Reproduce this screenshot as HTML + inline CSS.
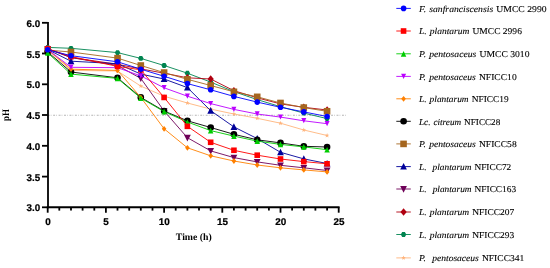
<!DOCTYPE html><html><head><meta charset="utf-8"><title>pH chart</title><style>html,body{margin:0;padding:0;background:#fff}body{width:550px;height:268px;overflow:hidden}svg{display:block}text{text-rendering:geometricPrecision}.tk{font-family:"Liberation Sans",Arial,sans-serif;font-weight:bold;font-size:9.8px;fill:#000;stroke:#000;stroke-width:0.22px}.ax{font-family:"Liberation Serif","Times New Roman",serif;font-weight:bold;font-size:9.8px;fill:#000}.lg{font-family:"Liberation Serif","Times New Roman",serif;font-size:9px;fill:#000;stroke:#000;stroke-width:0.1px;white-space:pre}.lg tspan.i{font-style:italic;word-spacing:0.7px}.lg tspan.r{word-spacing:0px}</style></head><body>
<svg width="550" height="268" viewBox="0 0 550 268">
<rect width="550" height="268" fill="#fff"/>
<line x1="47.7" y1="115.25" x2="346" y2="115.25" stroke="#808080" stroke-width="0.6" stroke-dasharray="1.9 1.15 0.7 1.7"/>
<line x1="48.0" y1="21.9" x2="48.0" y2="208.15" stroke="#000" stroke-width="1.8"/>
<line x1="46.800000000000004" y1="207.25" x2="339.59999999999997" y2="207.25" stroke="#000" stroke-width="1.8"/>
<line x1="42.0" y1="207.3" x2="47.7" y2="207.3" stroke="#000" stroke-width="1.8"/>
<text class="tk" transform="translate(40.2,211.2) scale(1.0,1)" text-anchor="end">3.0</text>
<line x1="42.0" y1="176.6" x2="47.7" y2="176.6" stroke="#000" stroke-width="1.8"/>
<text class="tk" transform="translate(40.2,180.5) scale(1.0,1)" text-anchor="end">3.5</text>
<line x1="42.0" y1="145.8" x2="47.7" y2="145.8" stroke="#000" stroke-width="1.8"/>
<text class="tk" transform="translate(40.2,149.8) scale(1.0,1)" text-anchor="end">4.0</text>
<line x1="42.0" y1="115.0" x2="47.7" y2="115.0" stroke="#000" stroke-width="1.8"/>
<text class="tk" transform="translate(40.2,119.0) scale(1.0,1)" text-anchor="end">4.5</text>
<line x1="42.0" y1="84.3" x2="47.7" y2="84.3" stroke="#000" stroke-width="1.8"/>
<text class="tk" transform="translate(40.2,88.2) scale(1.0,1)" text-anchor="end">5.0</text>
<line x1="42.0" y1="53.5" x2="47.7" y2="53.5" stroke="#000" stroke-width="1.8"/>
<text class="tk" transform="translate(40.2,57.5) scale(1.0,1)" text-anchor="end">5.5</text>
<line x1="42.0" y1="22.8" x2="47.7" y2="22.8" stroke="#000" stroke-width="1.8"/>
<text class="tk" transform="translate(40.2,26.8) scale(1.0,1)" text-anchor="end">6.0</text>
<line x1="47.7" y1="207.25" x2="47.7" y2="212.7" stroke="#000" stroke-width="1.8"/>
<text class="tk" transform="translate(47.9,224.5) scale(1.01,1)" text-anchor="middle">0</text>
<line x1="59.3" y1="207.25" x2="59.3" y2="210.6" stroke="#000" stroke-width="1.8"/>
<line x1="71.0" y1="207.25" x2="71.0" y2="210.6" stroke="#000" stroke-width="1.8"/>
<line x1="82.6" y1="207.25" x2="82.6" y2="210.6" stroke="#000" stroke-width="1.8"/>
<line x1="94.3" y1="207.25" x2="94.3" y2="210.6" stroke="#000" stroke-width="1.8"/>
<line x1="105.9" y1="207.25" x2="105.9" y2="212.7" stroke="#000" stroke-width="1.8"/>
<text class="tk" transform="translate(106.1,224.5) scale(1.01,1)" text-anchor="middle">5</text>
<line x1="117.5" y1="207.25" x2="117.5" y2="210.6" stroke="#000" stroke-width="1.8"/>
<line x1="129.2" y1="207.25" x2="129.2" y2="210.6" stroke="#000" stroke-width="1.8"/>
<line x1="140.8" y1="207.25" x2="140.8" y2="210.6" stroke="#000" stroke-width="1.8"/>
<line x1="152.5" y1="207.25" x2="152.5" y2="210.6" stroke="#000" stroke-width="1.8"/>
<line x1="164.1" y1="207.25" x2="164.1" y2="212.7" stroke="#000" stroke-width="1.8"/>
<text class="tk" transform="translate(164.3,224.5) scale(1.01,1)" text-anchor="middle">10</text>
<line x1="175.7" y1="207.25" x2="175.7" y2="210.6" stroke="#000" stroke-width="1.8"/>
<line x1="187.4" y1="207.25" x2="187.4" y2="210.6" stroke="#000" stroke-width="1.8"/>
<line x1="199.0" y1="207.25" x2="199.0" y2="210.6" stroke="#000" stroke-width="1.8"/>
<line x1="210.7" y1="207.25" x2="210.7" y2="210.6" stroke="#000" stroke-width="1.8"/>
<line x1="222.3" y1="207.25" x2="222.3" y2="212.7" stroke="#000" stroke-width="1.8"/>
<text class="tk" transform="translate(222.5,224.5) scale(1.01,1)" text-anchor="middle">15</text>
<line x1="233.9" y1="207.25" x2="233.9" y2="210.6" stroke="#000" stroke-width="1.8"/>
<line x1="245.6" y1="207.25" x2="245.6" y2="210.6" stroke="#000" stroke-width="1.8"/>
<line x1="257.2" y1="207.25" x2="257.2" y2="210.6" stroke="#000" stroke-width="1.8"/>
<line x1="268.9" y1="207.25" x2="268.9" y2="210.6" stroke="#000" stroke-width="1.8"/>
<line x1="280.5" y1="207.25" x2="280.5" y2="212.7" stroke="#000" stroke-width="1.8"/>
<text class="tk" transform="translate(280.7,224.5) scale(1.01,1)" text-anchor="middle">20</text>
<line x1="292.1" y1="207.25" x2="292.1" y2="210.6" stroke="#000" stroke-width="1.8"/>
<line x1="303.8" y1="207.25" x2="303.8" y2="210.6" stroke="#000" stroke-width="1.8"/>
<line x1="315.4" y1="207.25" x2="315.4" y2="210.6" stroke="#000" stroke-width="1.8"/>
<line x1="327.1" y1="207.25" x2="327.1" y2="210.6" stroke="#000" stroke-width="1.8"/>
<line x1="338.7" y1="207.25" x2="338.7" y2="212.7" stroke="#000" stroke-width="1.8"/>
<text class="tk" transform="translate(338.9,224.5) scale(1.01,1)" text-anchor="middle">25</text>
<polyline points="47.7,50.1 71.0,70.4 117.5,71.0 140.8,86.1 164.1,96.2 187.4,103.0 210.7,109.1 233.9,114.0 257.2,118.3 280.5,123.2 303.8,130.0 327.1,135.5" fill="none" stroke="#ffb47c" stroke-width="0.9" stroke-linejoin="round"/>
<polygon points="47.7,47.7 48.3,49.3 50.0,49.4 48.7,50.5 49.1,52.1 47.7,51.2 46.3,52.1 46.7,50.5 45.4,49.4 47.1,49.3" fill="#ffb47c"/>
<polygon points="71.0,68.0 71.6,69.6 73.3,69.7 71.9,70.7 72.4,72.4 71.0,71.4 69.6,72.4 70.0,70.7 68.7,69.7 70.4,69.6" fill="#ffb47c"/>
<polygon points="117.5,68.6 118.1,70.2 119.8,70.3 118.5,71.3 119.0,73.0 117.5,72.0 116.1,73.0 116.6,71.3 115.3,70.3 116.9,70.2" fill="#ffb47c"/>
<polygon points="140.8,83.7 141.4,85.3 143.1,85.3 141.8,86.4 142.2,88.0 140.8,87.1 139.4,88.0 139.9,86.4 138.5,85.3 140.2,85.3" fill="#ffb47c"/>
<polygon points="164.1,93.8 164.7,95.4 166.4,95.5 165.1,96.5 165.5,98.2 164.1,97.2 162.7,98.2 163.1,96.5 161.8,95.5 163.5,95.4" fill="#ffb47c"/>
<polygon points="187.4,100.6 188.0,102.2 189.7,102.2 188.3,103.3 188.8,104.9 187.4,104.0 186.0,104.9 186.4,103.3 185.1,102.2 186.8,102.2" fill="#ffb47c"/>
<polygon points="210.7,106.7 211.3,108.3 212.9,108.4 211.6,109.4 212.1,111.1 210.7,110.1 209.2,111.1 209.7,109.4 208.4,108.4 210.1,108.3" fill="#ffb47c"/>
<polygon points="233.9,111.6 234.5,113.2 236.2,113.3 234.9,114.3 235.4,116.0 233.9,115.0 232.5,116.0 233.0,114.3 231.7,113.3 233.3,113.2" fill="#ffb47c"/>
<polygon points="257.2,115.9 257.8,117.5 259.5,117.6 258.2,118.6 258.6,120.3 257.2,119.3 255.8,120.3 256.3,118.6 254.9,117.6 256.6,117.5" fill="#ffb47c"/>
<polygon points="280.5,120.8 281.1,122.4 282.8,122.5 281.5,123.6 281.9,125.2 280.5,124.3 279.1,125.2 279.5,123.6 278.2,122.5 279.9,122.4" fill="#ffb47c"/>
<polygon points="303.8,127.6 304.4,129.2 306.1,129.3 304.7,130.3 305.2,131.9 303.8,131.0 302.4,131.9 302.8,130.3 301.5,129.3 303.2,129.2" fill="#ffb47c"/>
<polygon points="327.1,133.1 327.7,134.7 329.3,134.8 328.0,135.8 328.5,137.5 327.1,136.5 325.6,137.5 326.1,135.8 324.8,134.8 326.5,134.7" fill="#ffb47c"/>
<polyline points="47.7,47.4 71.0,48.3 117.5,52.6 140.8,58.4 164.1,65.5 187.4,73.2 210.7,82.1 233.9,91.6 257.2,99.6 280.5,106.7 303.8,113.1 327.1,118.6" fill="none" stroke="#008450" stroke-width="0.9" stroke-linejoin="round"/>
<polygon points="50.5,47.4 49.1,49.8 46.3,49.8 45.0,47.4 46.3,45.0 49.1,45.0" fill="#008450"/>
<polygon points="73.7,48.3 72.4,50.7 69.6,50.7 68.2,48.3 69.6,45.9 72.4,45.9" fill="#008450"/>
<polygon points="120.3,52.6 118.9,55.0 116.2,55.0 114.8,52.6 116.2,50.2 118.9,50.2" fill="#008450"/>
<polygon points="143.6,58.4 142.2,60.8 139.4,60.8 138.1,58.4 139.4,56.1 142.2,56.1" fill="#008450"/>
<polygon points="166.9,65.5 165.5,67.9 162.7,67.9 161.4,65.5 162.7,63.1 165.5,63.1" fill="#008450"/>
<polygon points="190.1,73.2 188.8,75.6 186.0,75.6 184.6,73.2 186.0,70.8 188.8,70.8" fill="#008450"/>
<polygon points="213.4,82.1 212.0,84.5 209.3,84.5 207.9,82.1 209.3,79.7 212.0,79.7" fill="#008450"/>
<polygon points="236.7,91.6 235.3,94.0 232.6,94.0 231.2,91.6 232.6,89.2 235.3,89.2" fill="#008450"/>
<polygon points="260.0,99.6 258.6,102.0 255.8,102.0 254.5,99.6 255.8,97.2 258.6,97.2" fill="#008450"/>
<polygon points="283.2,106.7 281.9,109.0 279.1,109.0 277.8,106.7 279.1,104.3 281.9,104.3" fill="#008450"/>
<polygon points="306.5,113.1 305.2,115.5 302.4,115.5 301.0,113.1 302.4,110.7 305.2,110.7" fill="#008450"/>
<polygon points="329.8,118.6 328.4,121.0 325.7,121.0 324.3,118.6 325.7,116.3 328.4,116.3" fill="#008450"/>
<polyline points="47.7,48.6 71.0,57.5 117.5,64.3 140.8,68.9 164.1,73.2 187.4,77.8 210.7,79.0 233.9,90.7 257.2,97.8 280.5,103.9 303.8,107.3 327.1,110.0" fill="none" stroke="#b00010" stroke-width="0.9" stroke-linejoin="round"/>
<polygon points="47.7,44.9 50.8,48.6 47.7,52.3 44.6,48.6" fill="#b00010"/>
<polygon points="71.0,53.8 74.1,57.5 71.0,61.2 67.9,57.5" fill="#b00010"/>
<polygon points="117.5,60.6 120.6,64.3 117.5,68.0 114.4,64.3" fill="#b00010"/>
<polygon points="140.8,65.2 143.9,68.9 140.8,72.6 137.7,68.9" fill="#b00010"/>
<polygon points="164.1,69.5 167.2,73.2 164.1,76.9 161.0,73.2" fill="#b00010"/>
<polygon points="187.4,74.1 190.5,77.8 187.4,81.5 184.3,77.8" fill="#b00010"/>
<polygon points="210.7,75.3 213.8,79.0 210.7,82.7 207.6,79.0" fill="#b00010"/>
<polygon points="233.9,87.0 237.0,90.7 233.9,94.4 230.8,90.7" fill="#b00010"/>
<polygon points="257.2,94.1 260.3,97.8 257.2,101.5 254.1,97.8" fill="#b00010"/>
<polygon points="280.5,100.2 283.6,103.9 280.5,107.6 277.4,103.9" fill="#b00010"/>
<polygon points="303.8,103.6 306.9,107.3 303.8,111.0 300.7,107.3" fill="#b00010"/>
<polygon points="327.1,106.3 330.2,110.0 327.1,113.7 324.0,110.0" fill="#b00010"/>
<polyline points="47.7,48.9 71.0,57.5 117.5,65.5 140.8,78.4 164.1,111.0 187.4,137.7 210.7,150.9 233.9,157.6 257.2,161.9 280.5,165.3 303.8,167.8 327.1,170.5" fill="none" stroke="#6e0058" stroke-width="0.9" stroke-linejoin="round"/>
<polygon points="47.7,52.6 51.1,46.0 44.3,46.0" fill="#6e0058"/>
<polygon points="71.0,61.2 74.4,54.6 67.6,54.6" fill="#6e0058"/>
<polygon points="117.5,69.2 120.9,62.6 114.1,62.6" fill="#6e0058"/>
<polygon points="140.8,82.1 144.2,75.5 137.4,75.5" fill="#6e0058"/>
<polygon points="164.1,114.7 167.5,108.1 160.7,108.1" fill="#6e0058"/>
<polygon points="187.4,141.4 190.8,134.8 184.0,134.8" fill="#6e0058"/>
<polygon points="210.7,154.6 214.1,148.0 207.3,148.0" fill="#6e0058"/>
<polygon points="233.9,161.3 237.3,154.7 230.5,154.7" fill="#6e0058"/>
<polygon points="257.2,165.6 260.6,159.0 253.8,159.0" fill="#6e0058"/>
<polygon points="280.5,169.0 283.9,162.4 277.1,162.4" fill="#6e0058"/>
<polygon points="303.8,171.5 307.2,164.9 300.4,164.9" fill="#6e0058"/>
<polygon points="327.1,174.2 330.5,167.6 323.7,167.6" fill="#6e0058"/>
<polyline points="47.7,49.5 71.0,61.2 117.5,63.7 140.8,74.1 164.1,79.0 187.4,87.6 210.7,110.7 233.9,126.9 257.2,138.6 280.5,152.3 303.8,158.9 327.1,163.5" fill="none" stroke="#000099" stroke-width="0.9" stroke-linejoin="round"/>
<polygon points="47.7,45.9 51.1,52.5 44.3,52.5" fill="#000099"/>
<polygon points="71.0,57.6 74.4,64.2 67.6,64.2" fill="#000099"/>
<polygon points="117.5,60.1 120.9,66.7 114.1,66.7" fill="#000099"/>
<polygon points="140.8,70.5 144.2,77.1 137.4,77.1" fill="#000099"/>
<polygon points="164.1,75.4 167.5,82.0 160.7,82.0" fill="#000099"/>
<polygon points="187.4,84.0 190.8,90.6 184.0,90.6" fill="#000099"/>
<polygon points="210.7,107.1 214.1,113.7 207.3,113.7" fill="#000099"/>
<polygon points="233.9,123.3 237.3,129.9 230.5,129.9" fill="#000099"/>
<polygon points="257.2,135.0 260.6,141.6 253.8,141.6" fill="#000099"/>
<polygon points="280.5,148.7 283.9,155.3 277.1,155.3" fill="#000099"/>
<polygon points="303.8,155.3 307.2,161.9 300.4,161.9" fill="#000099"/>
<polygon points="327.1,159.9 330.5,166.5 323.7,166.5" fill="#000099"/>
<polyline points="47.7,50.1 71.0,52.0 117.5,58.1 140.8,65.5 164.1,72.6 187.4,79.3 210.7,85.5 233.9,91.8 257.2,96.8 280.5,103.0 303.8,107.6 327.1,111.3" fill="none" stroke="#a5661f" stroke-width="0.9" stroke-linejoin="round"/>
<rect x="44.40" y="46.84" width="6.60" height="6.60" fill="#a5661f"/>
<rect x="67.68" y="48.69" width="6.60" height="6.60" fill="#a5661f"/>
<rect x="114.24" y="54.83" width="6.60" height="6.60" fill="#a5661f"/>
<rect x="137.52" y="62.20" width="6.60" height="6.60" fill="#a5661f"/>
<rect x="160.80" y="69.27" width="6.60" height="6.60" fill="#a5661f"/>
<rect x="184.08" y="76.02" width="6.60" height="6.60" fill="#a5661f"/>
<rect x="207.36" y="82.17" width="6.60" height="6.60" fill="#a5661f"/>
<rect x="230.64" y="88.49" width="6.60" height="6.60" fill="#a5661f"/>
<rect x="253.92" y="93.53" width="6.60" height="6.60" fill="#a5661f"/>
<rect x="277.20" y="99.67" width="6.60" height="6.60" fill="#a5661f"/>
<rect x="300.48" y="104.28" width="6.60" height="6.60" fill="#a5661f"/>
<rect x="323.76" y="107.97" width="6.60" height="6.60" fill="#a5661f"/>
<polyline points="47.7,52.0 71.0,72.0 117.5,77.8 140.8,97.4 164.1,111.0 187.4,120.8 210.7,127.5 233.9,134.3 257.2,139.8 280.5,142.9 303.8,146.3 327.1,147.0" fill="none" stroke="#000000" stroke-width="0.9" stroke-linejoin="round"/>
<circle cx="47.7" cy="52.0" r="3.30" fill="#000000"/>
<circle cx="71.0" cy="72.0" r="3.30" fill="#000000"/>
<circle cx="117.5" cy="77.8" r="3.30" fill="#000000"/>
<circle cx="140.8" cy="97.4" r="3.30" fill="#000000"/>
<circle cx="164.1" cy="111.0" r="3.30" fill="#000000"/>
<circle cx="187.4" cy="120.8" r="3.30" fill="#000000"/>
<circle cx="210.7" cy="127.5" r="3.30" fill="#000000"/>
<circle cx="233.9" cy="134.3" r="3.30" fill="#000000"/>
<circle cx="257.2" cy="139.8" r="3.30" fill="#000000"/>
<circle cx="280.5" cy="142.9" r="3.30" fill="#000000"/>
<circle cx="303.8" cy="146.3" r="3.30" fill="#000000"/>
<circle cx="327.1" cy="147.0" r="3.30" fill="#000000"/>
<polyline points="47.7,49.5 71.0,69.2 117.5,70.4 140.8,97.4 164.1,128.8 187.4,147.8 210.7,155.8 233.9,161.0 257.2,165.0 280.5,167.8 303.8,169.9 327.1,171.9" fill="none" stroke="#ff8000" stroke-width="0.9" stroke-linejoin="round"/>
<polygon points="47.7,46.6 50.0,49.5 47.7,52.4 45.4,49.5" fill="#ff8000"/>
<polygon points="71.0,66.3 73.3,69.2 71.0,72.1 68.7,69.2" fill="#ff8000"/>
<polygon points="117.5,67.5 119.8,70.4 117.5,73.3 115.2,70.4" fill="#ff8000"/>
<polygon points="140.8,94.5 143.1,97.4 140.8,100.3 138.5,97.4" fill="#ff8000"/>
<polygon points="164.1,125.9 166.4,128.8 164.1,131.7 161.8,128.8" fill="#ff8000"/>
<polygon points="187.4,144.9 189.7,147.8 187.4,150.7 185.1,147.8" fill="#ff8000"/>
<polygon points="210.7,152.9 213.0,155.8 210.7,158.7 208.4,155.8" fill="#ff8000"/>
<polygon points="233.9,158.1 236.2,161.0 233.9,163.9 231.6,161.0" fill="#ff8000"/>
<polygon points="257.2,162.1 259.5,165.0 257.2,167.9 254.9,165.0" fill="#ff8000"/>
<polygon points="280.5,164.9 282.8,167.8 280.5,170.7 278.2,167.8" fill="#ff8000"/>
<polygon points="303.8,167.0 306.1,169.9 303.8,172.8 301.5,169.9" fill="#ff8000"/>
<polygon points="327.1,169.0 329.4,171.9 327.1,174.8 324.8,171.9" fill="#ff8000"/>
<polyline points="47.7,49.5 71.0,67.3 117.5,67.7 140.8,75.9 164.1,87.8 187.4,96.2 210.7,103.6 233.9,109.4 257.2,114.0 280.5,117.1 303.8,120.8 327.1,123.7" fill="none" stroke="#bb00ff" stroke-width="0.9" stroke-linejoin="round"/>
<polygon points="47.7,52.0 50.2,46.8 45.2,46.8" fill="#bb00ff"/>
<polygon points="71.0,69.8 73.5,64.6 68.5,64.6" fill="#bb00ff"/>
<polygon points="117.5,70.1 120.0,65.0 115.0,65.0" fill="#bb00ff"/>
<polygon points="140.8,78.4 143.3,73.2 138.3,73.2" fill="#bb00ff"/>
<polygon points="164.1,90.3 166.6,85.1 161.6,85.1" fill="#bb00ff"/>
<polygon points="187.4,98.7 189.9,93.5 184.9,93.5" fill="#bb00ff"/>
<polygon points="210.7,106.0 213.2,100.9 208.2,100.9" fill="#bb00ff"/>
<polygon points="233.9,111.9 236.4,106.7 231.4,106.7" fill="#bb00ff"/>
<polygon points="257.2,116.5 259.7,111.3 254.7,111.3" fill="#bb00ff"/>
<polygon points="280.5,119.6 283.0,114.4 278.0,114.4" fill="#bb00ff"/>
<polygon points="303.8,123.2 306.3,118.1 301.3,118.1" fill="#bb00ff"/>
<polygon points="327.1,126.2 329.6,121.0 324.6,121.0" fill="#bb00ff"/>
<polyline points="47.7,52.9 71.0,74.1 117.5,78.4 140.8,98.1 164.1,111.6 187.4,122.0 210.7,130.6 233.9,136.1 257.2,141.1 280.5,144.4 303.8,146.9 327.1,149.7" fill="none" stroke="#00cc00" stroke-width="0.9" stroke-linejoin="round"/>
<polygon points="47.7,50.1 50.5,55.8 45.0,55.8" fill="#00cc00"/>
<polygon points="71.0,71.3 73.7,77.0 68.2,77.0" fill="#00cc00"/>
<polygon points="117.5,75.6 120.3,81.3 114.8,81.3" fill="#00cc00"/>
<polygon points="140.8,95.3 143.6,101.0 138.1,101.0" fill="#00cc00"/>
<polygon points="164.1,108.8 166.9,114.5 161.4,114.5" fill="#00cc00"/>
<polygon points="187.4,119.2 190.1,124.9 184.6,124.9" fill="#00cc00"/>
<polygon points="210.7,127.8 213.4,133.5 207.9,133.5" fill="#00cc00"/>
<polygon points="233.9,133.3 236.7,139.0 231.2,139.0" fill="#00cc00"/>
<polygon points="257.2,138.3 260.0,144.0 254.5,144.0" fill="#00cc00"/>
<polygon points="280.5,141.6 283.2,147.3 277.8,147.3" fill="#00cc00"/>
<polygon points="303.8,144.1 306.5,149.8 301.0,149.8" fill="#00cc00"/>
<polygon points="327.1,146.9 329.8,152.6 324.3,152.6" fill="#00cc00"/>
<polyline points="47.7,48.9 71.0,56.6 117.5,66.4 140.8,69.8 164.1,97.4 187.4,126.3 210.7,142.3 233.9,150.3 257.2,155.2 280.5,159.0 303.8,161.6 327.1,163.8" fill="none" stroke="#ff0000" stroke-width="0.9" stroke-linejoin="round"/>
<rect x="44.90" y="46.11" width="5.60" height="5.60" fill="#ff0000"/>
<rect x="68.18" y="53.79" width="5.60" height="5.60" fill="#ff0000"/>
<rect x="114.74" y="63.62" width="5.60" height="5.60" fill="#ff0000"/>
<rect x="138.02" y="67.00" width="5.60" height="5.60" fill="#ff0000"/>
<rect x="161.30" y="94.64" width="5.60" height="5.60" fill="#ff0000"/>
<rect x="184.58" y="123.52" width="5.60" height="5.60" fill="#ff0000"/>
<rect x="207.86" y="139.49" width="5.60" height="5.60" fill="#ff0000"/>
<rect x="231.14" y="147.47" width="5.60" height="5.60" fill="#ff0000"/>
<rect x="254.42" y="152.39" width="5.60" height="5.60" fill="#ff0000"/>
<rect x="277.70" y="156.20" width="5.60" height="5.60" fill="#ff0000"/>
<rect x="300.98" y="158.84" width="5.60" height="5.60" fill="#ff0000"/>
<rect x="324.26" y="160.99" width="5.60" height="5.60" fill="#ff0000"/>
<polyline points="47.7,49.8 71.0,55.7 117.5,61.8 140.8,69.2 164.1,76.3 187.4,83.6 210.7,89.8 233.9,96.4 257.2,102.1 280.5,107.3 303.8,111.9 327.1,116.5" fill="none" stroke="#0000ff" stroke-width="0.9" stroke-linejoin="round"/>
<circle cx="47.7" cy="49.8" r="2.80" fill="#0000ff"/>
<circle cx="71.0" cy="55.7" r="2.80" fill="#0000ff"/>
<circle cx="117.5" cy="61.8" r="2.80" fill="#0000ff"/>
<circle cx="140.8" cy="69.2" r="2.80" fill="#0000ff"/>
<circle cx="164.1" cy="76.3" r="2.80" fill="#0000ff"/>
<circle cx="187.4" cy="83.6" r="2.80" fill="#0000ff"/>
<circle cx="210.7" cy="89.8" r="2.80" fill="#0000ff"/>
<circle cx="233.9" cy="96.4" r="2.80" fill="#0000ff"/>
<circle cx="257.2" cy="102.1" r="2.80" fill="#0000ff"/>
<circle cx="280.5" cy="107.3" r="2.80" fill="#0000ff"/>
<circle cx="303.8" cy="111.9" r="2.80" fill="#0000ff"/>
<circle cx="327.1" cy="116.5" r="2.80" fill="#0000ff"/>
<text class="ax" x="193.8" y="239.8" text-anchor="middle">Time (h)</text>
<text class="ax" transform="translate(8.8,115.1) rotate(-90) scale(0.92,1)" text-anchor="middle">pH</text>
<line x1="396.3" y1="8.4" x2="410.8" y2="8.4" stroke="#0000ff" stroke-width="0.9"/>
<circle cx="403.6" cy="8.4" r="2.80" fill="#0000ff"/>
<text class="lg" x="419" y="11.7" textLength="127.6" lengthAdjust="spacingAndGlyphs"><tspan class="i">F. sanfranciscensis </tspan><tspan class="r">UMCC 2990</tspan></text>
<line x1="396.3" y1="31.0" x2="410.8" y2="31.0" stroke="#ff0000" stroke-width="0.9"/>
<rect x="400.75" y="28.20" width="5.60" height="5.60" fill="#ff0000"/>
<text class="lg" x="419" y="34.3" textLength="102.9" lengthAdjust="spacingAndGlyphs"><tspan class="i">L. plantarum </tspan><tspan class="r">UMCC 2996</tspan></text>
<line x1="396.3" y1="53.8" x2="410.8" y2="53.8" stroke="#00cc00" stroke-width="0.9"/>
<polygon points="403.6,51.0 406.3,56.7 400.8,56.7" fill="#00cc00"/>
<text class="lg" x="419" y="57.1" textLength="110.5" lengthAdjust="spacingAndGlyphs"><tspan class="i">P. pentosaceus </tspan><tspan class="r">UMCC 3010</tspan></text>
<line x1="396.3" y1="76.4" x2="410.8" y2="76.4" stroke="#bb00ff" stroke-width="0.9"/>
<polygon points="403.6,78.9 406.1,73.7 401.1,73.7" fill="#bb00ff"/>
<text class="lg" x="419" y="79.7" textLength="97.7" lengthAdjust="spacingAndGlyphs"><tspan class="i">P. pentosaceus </tspan><tspan class="r">NFICC10</tspan></text>
<line x1="396.3" y1="98.8" x2="410.8" y2="98.8" stroke="#ff8000" stroke-width="0.9"/>
<polygon points="403.6,95.9 405.9,98.8 403.6,101.7 401.2,98.8" fill="#ff8000"/>
<text class="lg" x="419" y="102.1" textLength="89.6" lengthAdjust="spacingAndGlyphs"><tspan class="i">L. plantarum </tspan><tspan class="r">NFICC19</tspan></text>
<line x1="396.3" y1="121.3" x2="410.8" y2="121.3" stroke="#000000" stroke-width="0.9"/>
<circle cx="403.6" cy="121.3" r="3.30" fill="#000000"/>
<text class="lg" x="419" y="124.6" textLength="81.3" lengthAdjust="spacingAndGlyphs"><tspan class="i">Lc. citreum </tspan><tspan class="r">NFICC28</tspan></text>
<line x1="396.3" y1="143.9" x2="410.8" y2="143.9" stroke="#a5661f" stroke-width="0.9"/>
<rect x="400.25" y="140.60" width="6.60" height="6.60" fill="#a5661f"/>
<text class="lg" x="419" y="147.2" textLength="97.7" lengthAdjust="spacingAndGlyphs"><tspan class="i">P. pentosaceus </tspan><tspan class="r">NFICC58</tspan></text>
<line x1="396.3" y1="166.6" x2="410.8" y2="166.6" stroke="#000099" stroke-width="0.9"/>
<polygon points="403.6,163.0 406.9,169.6 400.2,169.6" fill="#000099"/>
<text class="lg" x="419" y="169.9" textLength="92.2" lengthAdjust="spacingAndGlyphs"><tspan class="i">L.  plantarum </tspan><tspan class="r">NFICC72</tspan></text>
<line x1="396.3" y1="189.0" x2="410.8" y2="189.0" stroke="#6e0058" stroke-width="0.9"/>
<polygon points="403.6,192.7 406.9,186.1 400.2,186.1" fill="#6e0058"/>
<text class="lg" x="419" y="192.3" textLength="97.1" lengthAdjust="spacingAndGlyphs"><tspan class="i">L.  plantarum </tspan><tspan class="r">NFICC163</tspan></text>
<line x1="396.3" y1="212.0" x2="410.8" y2="212.0" stroke="#b00010" stroke-width="0.9"/>
<polygon points="403.6,208.3 406.7,212.0 403.6,215.7 400.4,212.0" fill="#b00010"/>
<text class="lg" x="419" y="214.7" textLength="95.3" lengthAdjust="spacingAndGlyphs"><tspan class="i">L. plantarum </tspan><tspan class="r">NFICC207</tspan></text>
<line x1="396.3" y1="234.5" x2="410.8" y2="234.5" stroke="#008450" stroke-width="0.9"/>
<polygon points="406.3,234.5 404.9,236.9 402.2,236.9 400.8,234.5 402.2,232.1 404.9,232.1" fill="#008450"/>
<text class="lg" x="419" y="237.5" textLength="95.3" lengthAdjust="spacingAndGlyphs"><tspan class="i">L. plantarum </tspan><tspan class="r">NFICC293</tspan></text>
<line x1="396.3" y1="257.9" x2="410.8" y2="257.9" stroke="#ffb47c" stroke-width="0.9"/>
<polygon points="403.6,255.5 404.1,257.1 405.8,257.2 404.5,258.2 405.0,259.8 403.6,258.9 402.1,259.8 402.6,258.2 401.3,257.2 403.0,257.1" fill="#ffb47c"/>
<text class="lg" x="419" y="261.2" textLength="105.3" lengthAdjust="spacingAndGlyphs"><tspan class="i">P.  pentosaceus </tspan><tspan class="r">NFICC341</tspan></text>
</svg></body></html>
